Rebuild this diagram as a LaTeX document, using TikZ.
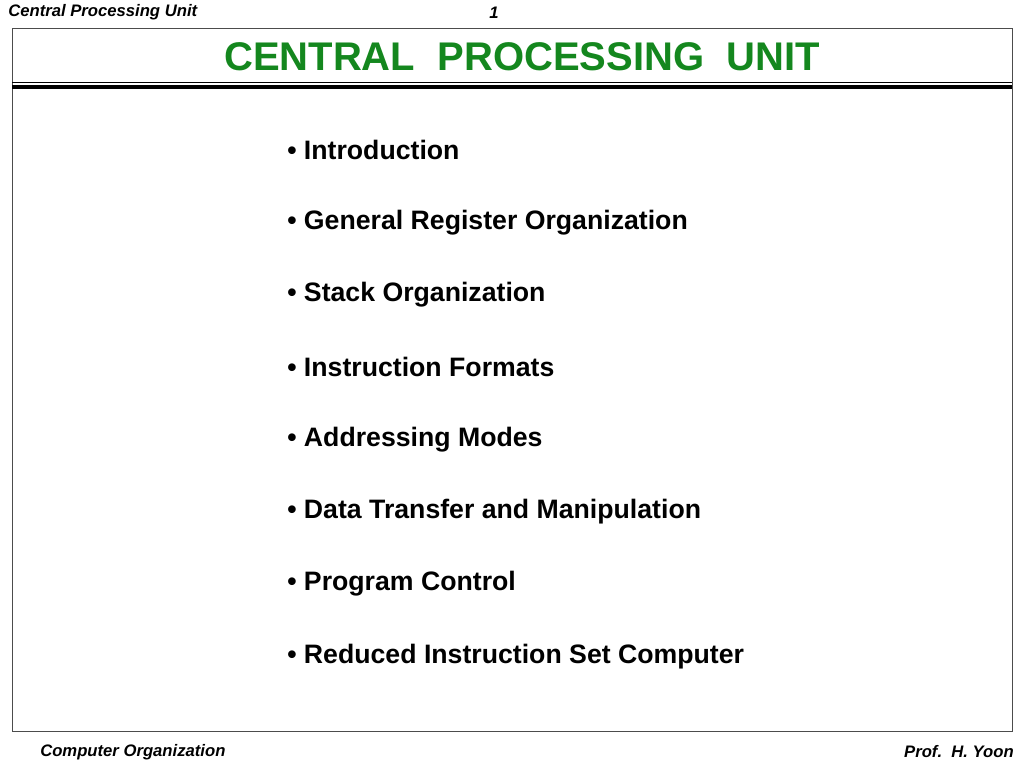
\documentclass[tikz,border=0pt]{standalone}
\usepackage{fontspec}
\setmainfont{Liberation Sans}
\definecolor{tgreen}{RGB}{20,135,30}
\begin{document}
\begin{tikzpicture}[x=0.75pt,y=-0.75pt,
  hdr/.style={font=\fontsize{12.5}{14}\selectfont\bfseries\itshape,inner sep=0},
  item/.style={font=\fontsize{20}{24}\selectfont\bfseries,anchor=west,inner sep=0}]
\useasboundingbox (0,0) rectangle (1024,768);
\draw[line width=0.75pt,black!70] (12,28) rectangle (1012,731);
\draw[line width=0.75pt] (12,82.5) -- (1012,82.5);
\draw[line width=3pt] (12,87) -- (1012,87);
\node[hdr,anchor=west] (h1) at (8,12) {Central Processing Unit};
\node[hdr] (pg) at (494,13) {1};
\node[font=\fontsize{30}{34}\selectfont\bfseries,text=tgreen,inner sep=0] (t) at (522,57) {CENTRAL\ \ PROCESSING\ \ UNIT};
\foreach \t [count=\i] in {Introduction,General Register Organization,Stack Organization,Instruction Formats,Addressing Modes,Data Transfer and Manipulation,Program Control,Reduced Instruction Set Computer}
  \node[item] (b\i) at (287,{150+72.3*(\i-1)}) {\textbullet\ \t};
\node[hdr,anchor=west] (f1) at (40,752) {Computer Organization};
\node[hdr,anchor=east] (f2) at (1014,752) {Prof.\ \ H. Yoon};
\end{tikzpicture}
\end{document}
